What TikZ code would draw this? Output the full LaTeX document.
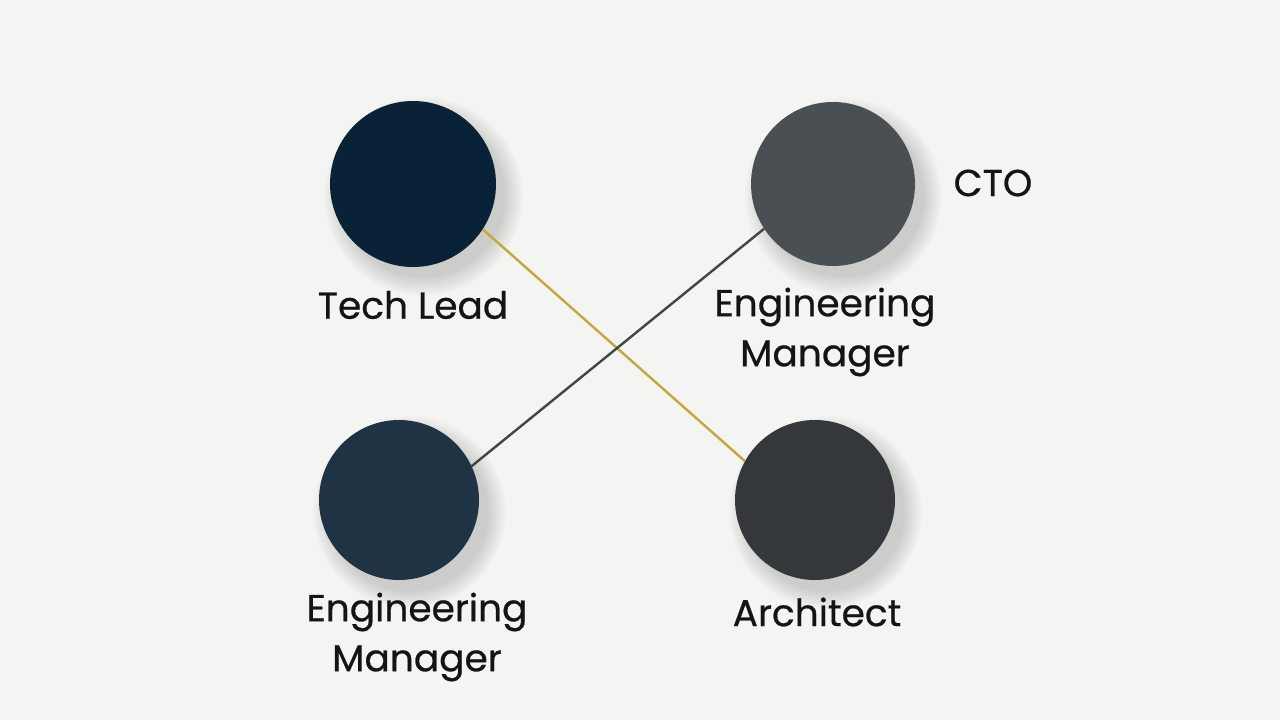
\documentclass[tikz,border=0pt]{standalone}
\usepackage{fontspec}
\setmainfont{Poppins}[FakeBold=0.6]
\usetikzlibrary{fadings}
\definecolor{bg}{HTML}{F4F4F2}
\definecolor{cA}{HTML}{0A2238}
\definecolor{cB}{HTML}{4A4F54}
\definecolor{cC}{HTML}{1F3344}
\definecolor{cD}{HTML}{35383B}
\definecolor{gold}{HTML}{C4A83A}
\definecolor{darkline}{HTML}{3F4644}
\definecolor{txt}{HTML}{141414}
\tikzset{
  circ/.style={circle, inner sep=0pt, draw=none},
  shad/.style={fill=black, opacity=0.16, path fading=circle with fuzzy edge 20 percent},
  lbl/.style={text=txt, font=\fontsize{37.5}{50}\selectfont, align=center, inner sep=0pt},
  conn/.style={line width=2.4pt}
}
\begin{document}
\begin{tikzpicture}[x=1pt,y=-1pt]
\fill[bg] (0,0) rectangle (1280,720);
\useasboundingbox (0,0) rectangle (1280,720);
\coordinate (ptl) at (413,184);
\coordinate (pcto) at (833,184);
\coordinate (pem) at (399,500);
\coordinate (par) at (815,500);
\fill[shad] ([shift={(10,12)}]ptl) circle (100);
\fill[shad] ([shift={(10,12)}]pcto) circle (99);
\fill[shad] ([shift={(10,12)}]pem) circle (97);
\fill[shad] ([shift={(10,12)}]par) circle (97);
\node[circ, fill=cA, minimum size=166pt] (tl) at (ptl) {};
\node[circ, fill=cB, minimum size=164pt] (cto) at (pcto) {};
\node[circ, fill=cC, minimum size=160pt] (em) at (pem) {};
\node[circ, fill=cD, minimum size=160pt] (ar) at (par) {};
\draw[conn, gold] (tl.-33) -- (ar.151);
\draw[conn, darkline] (em.25) -- (cto.-147);
\node[lbl] (ltl) at (413,305) {Tech Lead};
\node[lbl] (lcto) at (993,183) {CTO};
\node[lbl] (lem1) at (825,332) {Engineering\\Manager};
\node[lbl] (lem2) at (417,637) {Engineering\\Manager};
\node[lbl] (lar) at (817,612) {Architect};
\end{tikzpicture}
\end{document}
